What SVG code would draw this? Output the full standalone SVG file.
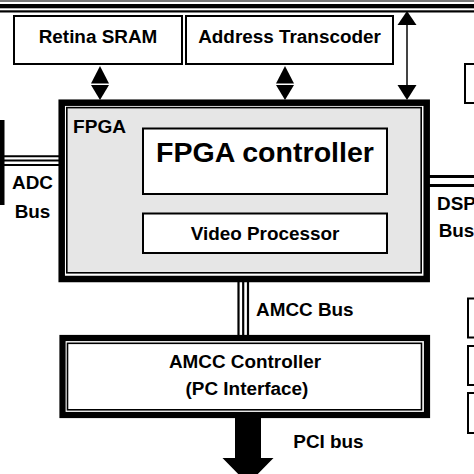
<svg xmlns="http://www.w3.org/2000/svg" width="474" height="474" viewBox="0 0 474 474">
<style>
  .t { font-family: "Liberation Sans", Arial, sans-serif; font-weight: bold; fill: #000; }
  .s { font-size: 18.9px; }
  .box { fill: #fff; stroke: #000; stroke-width: 2; }
  .bus { stroke: #000; fill: none; }
</style>
<rect x="0" y="0" width="474" height="474" fill="#fff"/>

<g id="connectors">
  <!-- top bus -->
  <rect x="0" y="0" width="474" height="2" fill="#777"/>
  <rect x="0" y="4" width="474" height="4.3" fill="#000"/>
  <rect x="0" y="10.3" width="474" height="2.2" fill="#000"/>
  <!-- Retina SRAM <-> FPGA -->
  <polygon points="100,66 91,83.5 109,83.5" fill="#000"/>
  <polygon points="91,85 109,85 100,100" fill="#000"/>
  <!-- Address Transcoder <-> FPGA -->
  <polygon points="285,66 276,83.5 294,83.5" fill="#000"/>
  <polygon points="276,85 294,85 285,100" fill="#000"/>
  <!-- top bus <-> FPGA -->
  <line x1="407" y1="24" x2="407" y2="86" stroke="#444" stroke-width="2"/>
  <polygon points="407,11 397.5,25 416.5,25" fill="#000"/>
  <polygon points="397.5,85 416.5,85 407,100" fill="#000"/>
  <!-- ADC bus -->
  <rect x="0" y="120" width="4.5" height="85" fill="#000"/>
  <g class="bus" stroke-width="2">
    <line x1="4" y1="156.3" x2="60" y2="156.3"/>
    <line x1="4" y1="160.6" x2="60" y2="160.6"/>
    <line x1="4" y1="165" x2="60" y2="165"/>
  </g>
  <!-- DSP bus -->
  <g class="bus" stroke-width="3">
    <line x1="428" y1="176.5" x2="474" y2="176.5"/>
    <line x1="428" y1="185.5" x2="474" y2="185.5"/>
  </g>
  <!-- AMCC bus -->
  <g class="bus" stroke-width="2.2">
    <line x1="238.5" y1="281" x2="238.5" y2="336"/>
    <line x1="243.2" y1="281" x2="243.2" y2="336"/>
    <line x1="248" y1="281" x2="248" y2="336"/>
  </g>
  <!-- PCI bus arrow -->
  <polygon points="235,417 261,417 261,458 273.5,458 248,484 222.5,458 235,458" fill="#000"/>
</g>

<g id="retina-sram">
  <rect class="box" x="14" y="16" width="168" height="48"/>
  <text class="t s" x="98" y="42.7" text-anchor="middle">Retina SRAM</text>
</g>

<g id="address-transcoder">
  <rect class="box" x="186" y="16" width="207" height="48"/>
  <text class="t s" x="289.5" y="42.7" text-anchor="middle">Address Transcoder</text>
</g>

<g id="right-top-box">
  <rect class="box" x="465" y="64" width="20" height="39"/>
</g>

<g id="fpga">
  <rect x="61.7" y="102.7" width="365" height="176.3" fill="#fff" stroke="#000" stroke-width="6.5"/>
  <rect x="66.8" y="107.6" width="354.4" height="165.2" fill="#e6e6e6" stroke="#000" stroke-width="1.6"/>
  <text class="t" x="73" y="133.3" font-size="18.5" textLength="53" lengthAdjust="spacingAndGlyphs">FPGA</text>
  <g id="fpga-controller">
    <rect class="box" x="143" y="128.5" width="244" height="65.5"/>
    <text class="t" x="265" y="162" font-size="27" text-anchor="middle" textLength="218" lengthAdjust="spacingAndGlyphs">FPGA controller</text>
  </g>
  <g id="video-processor">
    <rect class="box" x="143" y="213.5" width="244" height="39.5"/>
    <text class="t s" x="265" y="240" text-anchor="middle">Video Processor</text>
  </g>
</g>

<g id="amcc-controller">
  <rect x="62.5" y="338" width="364.5" height="77" fill="#fff" stroke="#000" stroke-width="6.2"/>
  <rect x="67.5" y="343.3" width="354" height="66.5" fill="#fff" stroke="#000" stroke-width="1.6"/>
  <text class="t s" x="245" y="368.3" text-anchor="middle">AMCC Controller</text>
  <text class="t s" x="247" y="395" text-anchor="middle">(PC Interface)</text>
</g>

<g id="right-boxes">
  <rect class="box" x="468" y="298.5" width="20" height="39"/>
  <rect class="box" x="468" y="346" width="20" height="39"/>
  <rect class="box" x="468" y="393" width="20" height="40"/>
</g>

<g id="labels">
  <text class="t s" x="32.5" y="189.3" text-anchor="middle">ADC</text>
  <text class="t s" x="32.5" y="218.3" text-anchor="middle">Bus</text>
  <text class="t s" x="456.5" y="210" text-anchor="middle">DSP</text>
  <text class="t s" x="456.5" y="236.7" text-anchor="middle">Bus</text>
  <text class="t s" x="256" y="316">AMCC Bus</text>
  <text class="t s" x="293.3" y="447.7">PCI bus</text>
</g>
</svg>
